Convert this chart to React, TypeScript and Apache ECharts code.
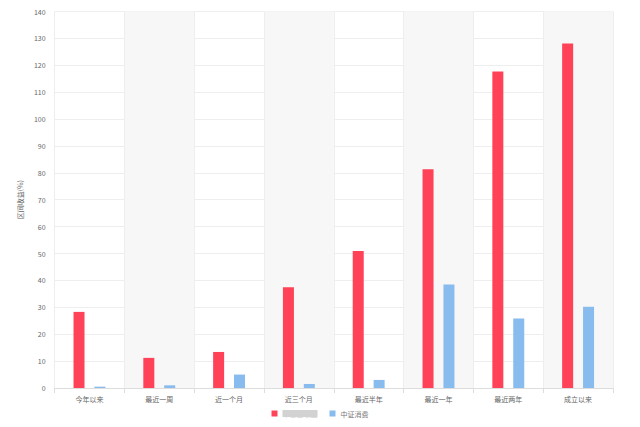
import React, { useEffect, useRef } from "react";
import * as echarts from "echarts";

const categories = ["今年以来", "最近一周", "近一个月", "近三个月", "最近半年", "最近一年", "最近两年", "成立以来"];
const fundName = "本基金收益";
const indexName = "中证消费";
const fundValues = [28.3, 11.2, 13.4, 37.5, 50.9, 81.3, 117.7, 128.1];
const indexValues = [0.5, 1.0, 5.0, 1.5, 3.0, 38.5, 25.8, 30.2];

export default function App() {
  const ref = useRef<HTMLDivElement>(null);
  useEffect(() => {
    if (!ref.current) return;
    const chart = echarts.init(ref.current, null, { renderer: "svg" });
    const font = "'Noto Sans CJK SC', 'Noto Sans', sans-serif";
    chart.setOption({
      animation: false,
      textStyle: { fontFamily: font },
      grid: { left: 45, right: 19, top: 3, bottom: 31 },
      legend: {
        top: 397,
        left: "center",
        itemWidth: 6,
        itemHeight: 6,
        itemGap: 12,
        icon: "rect",
        textStyle: {
          fontSize: 7,
          color: "#777",
          fontFamily: font,
          rich: {
            blur: { backgroundColor: "#d2d2d2", color: "#d2d2d2", fontSize: 7, height: 7 },
          },
        },
        formatter: (name: string) => (name === fundName ? "{blur|" + name + "}" : name),
        data: [fundName, indexName],
      },
      xAxis: {
        type: "category",
        data: categories,
        axisLine: { lineStyle: { color: "#dddddd" } },
        axisTick: { show: true, lineStyle: { color: "#dddddd" } },
        axisLabel: { color: "#666", fontSize: 7, margin: 7 },
        splitLine: { show: true, lineStyle: { color: "#eeeeee" } },
        splitArea: { show: true, areaStyle: { color: ["rgba(255,255,255,0)", "#f7f7f7"] } },
      },
      yAxis: {
        type: "value",
        min: 0,
        max: 140,
        interval: 10,
        name: "区间收益(%)",
        nameLocation: "middle",
        nameGap: 21,
        nameRotate: 90,
        nameTextStyle: { color: "#666", fontSize: 7 },
        axisLine: { show: false },
        axisTick: { show: false },
        axisLabel: { color: "#666", fontSize: 7, margin: 9 },
        splitLine: { lineStyle: { color: "#eeeeee" } },
      },
      series: [
        {
          name: fundName,
          type: "bar",
          data: fundValues,
          barWidth: 11,
          barGap: "90%",
          itemStyle: { color: "#ff4257" },
        },
        {
          name: indexName,
          type: "bar",
          data: indexValues,
          barWidth: 11,
          itemStyle: { color: "#88bbee" },
        },
      ],
    });
    return () => chart.dispose();
  }, []);
  return <div ref={ref} style={{ width: 624, height: 411 }} />;
}
